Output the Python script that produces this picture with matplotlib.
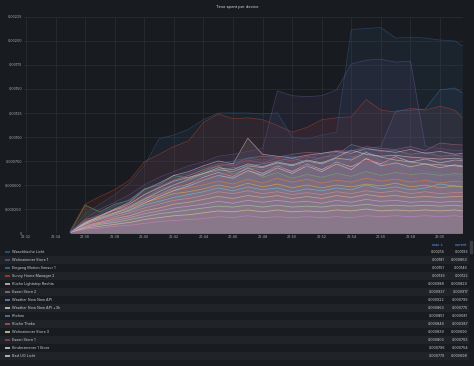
import numpy as np
import pandas as pd
import matplotlib
matplotlib.use("Agg")
import matplotlib.pyplot as plt
import matplotlib.dates as mdates
from matplotlib.patches import Rectangle

plt.rcParams['font.family'] = ['Inter', 'DejaVu Sans']

# time axis (one sample per minute)
times = ["22:35", "22:36", "22:37", "22:38", "22:39", "22:40", "22:41", "22:42",
         "22:43", "22:44", "22:45", "22:46", "22:47", "22:48", "22:49", "22:50",
         "22:51", "22:52", "22:53", "22:54", "22:55", "22:56", "22:57", "22:58",
         "22:59", "23:00", "23:01", "23:01:30"]

# named devices (shown in legend)
waschkueche_licht = [0.00002, 0.00020, 0.00030, 0.00040, 0.00052, 0.00070, 0.00098, 0.00102, 0.00108, 0.00118, 0.00125, 0.00125, 0.00125, 0.00124,
                     0.00125, 0.00100, 0.00098, 0.00102, 0.00105, 0.00212, 0.00213, 0.00214, 0.00203, 0.00204, 0.00203, 0.00201, 0.00200, 0.00195]
wohnzimmer_store_1 = [0.00001, 0.00015, 0.00025, 0.00032, 0.00040, 0.00050, 0.00058, 0.00064, 0.00070, 0.00074, 0.00080, 0.00082, 0.00085, 0.00088,
                      0.00148, 0.00143, 0.00142, 0.00143, 0.00149, 0.00176, 0.00180, 0.00181, 0.00178, 0.00179, 0.00090, 0.00088, 0.00086, 0.000863]
eingang_motion = [0.00001, 0.00012, 0.00020, 0.00028, 0.00035, 0.00045, 0.00052, 0.00058, 0.00062, 0.00068, 0.00072, 0.00075, 0.00078, 0.00076,
                  0.00079, 0.00080, 0.00078, 0.00082, 0.00084, 0.00086, 0.00088, 0.00090, 0.00127, 0.00128, 0.00129, 0.00149, 0.00151, 0.00146]
sunny_home = [0.00003, 0.00030, 0.00038, 0.00045, 0.00055, 0.00074, 0.00082, 0.00090, 0.00096, 0.00115, 0.00124, 0.00119, 0.00120, 0.00118,
              0.00112, 0.00105, 0.00110, 0.00118, 0.00120, 0.00121, 0.00139, 0.00128, 0.00126, 0.00130, 0.00128, 0.00132, 0.00128, 0.00120]
kueche_lightstrip = [0.00001, 0.00010, 0.00018, 0.00025, 0.00032, 0.00045, 0.00052, 0.00060, 0.00064, 0.00070, 0.00075, 0.00072, 0.000988, 0.00082,
                     0.00080, 0.00078, 0.00081, 0.00083, 0.00085, 0.00083, 0.00088, 0.00086, 0.00084, 0.00087, 0.00083, 0.00085, 0.00082, 0.000829]
essen_store_2 = [0.00001, 0.00008, 0.00015, 0.00022, 0.00030, 0.00040, 0.00048, 0.00055, 0.00060, 0.00066, 0.00070, 0.00072, 0.00078, 0.00080,
                 0.00079, 0.00082, 0.00084, 0.00083, 0.00086, 0.00085, 0.00090, 0.00088, 0.00087, 0.00090, 0.00086, 0.000937, 0.00092, 0.000917]
weather_api = [0.00001, 0.00009, 0.00016, 0.00022, 0.00028, 0.00036, 0.00045, 0.00050, 0.00055, 0.00060, 0.00065, 0.00068, 0.00070, 0.00072,
               0.00075, 0.00078, 0.00074, 0.00079, 0.00081, 0.000922, 0.00088, 0.00085, 0.00086, 0.00082, 0.00084, 0.00080, 0.00081, 0.000799]
weather_api_3h = [0.00001, 0.00011, 0.00017, 0.00024, 0.00030, 0.00040, 0.00047, 0.00054, 0.00058, 0.00062, 0.00068, 0.00066, 0.00072, 0.00069,
                  0.00074, 0.00071, 0.00076, 0.00073, 0.00079, 0.000863, 0.00082, 0.00080, 0.00081, 0.00079, 0.00078, 0.00077, 0.00078, 0.000770]
kitchen = [0.00001, 0.00010, 0.00014, 0.00020, 0.00026, 0.00034, 0.00040, 0.00046, 0.00050, 0.00055, 0.00060, 0.00064, 0.00068, 0.00066,
           0.00070, 0.00072, 0.00069, 0.00074, 0.00076, 0.00078, 0.000851, 0.00075, 0.00070, 0.00068, 0.00064, 0.00062, 0.00060, 0.000581]
kueche_theke = [0.00001, 0.00012, 0.00018, 0.00025, 0.00031, 0.00040, 0.00048, 0.00055, 0.00060, 0.00066, 0.00072, 0.00070, 0.00076, 0.00073,
                0.00078, 0.00075, 0.00080, 0.00077, 0.000846, 0.00080, 0.00078, 0.00074, 0.00068, 0.00060, 0.00052, 0.00045, 0.00040, 0.000387]
wohnzimmer_store_3 = [0.00001, 0.00009, 0.00016, 0.00021, 0.00027, 0.00035, 0.00043, 0.00050, 0.00056, 0.00062, 0.00066, 0.00064, 0.00070, 0.00068,
                      0.00073, 0.00070, 0.00075, 0.00072, 0.00078, 0.00076, 0.000839, 0.00079, 0.00076, 0.00074, 0.00072, 0.00071, 0.00070, 0.000690]
essen_store_1 = [0.00001, 0.00008, 0.00013, 0.00019, 0.00025, 0.00032, 0.00040, 0.00046, 0.00052, 0.00057, 0.00062, 0.00060, 0.00066, 0.00064,
                 0.00069, 0.00066, 0.00071, 0.00068, 0.00073, 0.00071, 0.00076, 0.00074, 0.00078, 0.000803, 0.00077, 0.00078, 0.00076, 0.000763]
kinderzimmer_store = [0.00001, 0.00010, 0.00015, 0.00020, 0.00026, 0.00033, 0.00040, 0.00047, 0.00051, 0.00058, 0.00063, 0.00059, 0.00068, 0.00062,
                      0.00070, 0.00064, 0.00072, 0.00066, 0.00074, 0.00069, 0.00077, 0.00072, 0.000796, 0.00074, 0.00077, 0.00073, 0.00076, 0.000754]
bad_ug_licht = [0.00001, 0.00009, 0.00014, 0.00019, 0.00024, 0.00031, 0.00038, 0.00044, 0.00049, 0.00055, 0.00060, 0.00057, 0.00065, 0.00060,
                0.00068, 0.00062, 0.00070, 0.00064, 0.00072, 0.00066, 0.000779, 0.00070, 0.00073, 0.00069, 0.00072, 0.00068, 0.00071, 0.000698]

# further devices further down the (scrolled) legend
dev_a = [0.00001, 0.00029, 0.00022, 0.00030, 0.00034, 0.00046, 0.00050, 0.00060, 0.00057, 0.00064, 0.00070, 0.00061, 0.00067, 0.00058,
         0.00063, 0.00057, 0.00061, 0.00058, 0.00062, 0.00059, 0.00064, 0.00060, 0.00063, 0.00061, 0.00062, 0.00060, 0.00062, 0.00061]
dev_b = [0.00001, 0.00014, 0.00018, 0.00024, 0.00028, 0.00036, 0.00040, 0.00045, 0.00047, 0.00050, 0.00054, 0.00051, 0.00056, 0.00052,
         0.00057, 0.00053, 0.00056, 0.00052, 0.00055, 0.00053, 0.00057, 0.00054, 0.00056, 0.00053, 0.00055, 0.00052, 0.00054, 0.00053]
dev_c = [0.00001, 0.00012, 0.00016, 0.00021, 0.00025, 0.00032, 0.00036, 0.00041, 0.00043, 0.00046, 0.00050, 0.00047, 0.00052, 0.00048,
         0.00051, 0.00047, 0.00050, 0.00047, 0.00050, 0.00048, 0.00051, 0.00049, 0.00052, 0.00048, 0.00050, 0.00047, 0.00049, 0.00048]
dev_d = [0.00001, 0.00010, 0.00015, 0.00019, 0.00023, 0.00029, 0.00033, 0.00037, 0.00040, 0.00043, 0.00047, 0.00044, 0.00048, 0.00045,
         0.00047, 0.00043, 0.00046, 0.00044, 0.00047, 0.00045, 0.00050, 0.00046, 0.00048, 0.00045, 0.00047, 0.00051, 0.00049, 0.00048]
dev_e = [0.00001, 0.00009, 0.00013, 0.00017, 0.00021, 0.00026, 0.00030, 0.00034, 0.00036, 0.00039, 0.00043, 0.00041, 0.00044, 0.00041,
         0.00043, 0.00040, 0.00042, 0.00040, 0.00043, 0.00041, 0.00044, 0.00042, 0.00044, 0.00041, 0.00043, 0.00041, 0.00042, 0.00042]
dev_f = [0.00001, 0.00008, 0.00011, 0.00015, 0.00018, 0.00023, 0.00026, 0.00030, 0.00032, 0.00035, 0.00038, 0.00036, 0.00039, 0.00037,
         0.00039, 0.00036, 0.00038, 0.00036, 0.00039, 0.00037, 0.00040, 0.00038, 0.00039, 0.00037, 0.00038, 0.00037, 0.00038, 0.00038]
dev_g = [0.00001, 0.00007, 0.00010, 0.00013, 0.00016, 0.00020, 0.00023, 0.00026, 0.00028, 0.00030, 0.00033, 0.00031, 0.00034, 0.00032,
         0.00034, 0.00032, 0.00033, 0.00031, 0.00034, 0.00032, 0.00035, 0.00033, 0.00034, 0.00032, 0.00033, 0.00032, 0.00033, 0.00033]
dev_h = [0.00001, 0.00006, 0.00009, 0.00011, 0.00014, 0.00017, 0.00020, 0.00022, 0.00024, 0.00026, 0.00028, 0.00027, 0.00029, 0.00027,
         0.00029, 0.00027, 0.00028, 0.00027, 0.00029, 0.00028, 0.00030, 0.00028, 0.00029, 0.00028, 0.00029, 0.00028, 0.00029, 0.00028]
dev_i = [0.00001, 0.00005, 0.00007, 0.00009, 0.00011, 0.00014, 0.00016, 0.00018, 0.00019, 0.00021, 0.00023, 0.00022, 0.00024, 0.00022,
         0.00024, 0.00022, 0.00023, 0.00022, 0.00024, 0.00023, 0.00025, 0.00023, 0.00024, 0.00023, 0.00024, 0.00023, 0.00024, 0.00023]
dev_j = [0.00001, 0.00004, 0.00005, 0.00007, 0.00008, 0.00010, 0.00012, 0.00013, 0.00014, 0.00015, 0.00017, 0.00016, 0.00018, 0.00016,
         0.00017, 0.00016, 0.00017, 0.00016, 0.00017, 0.00016, 0.00018, 0.00017, 0.00018, 0.00017, 0.00018, 0.00017, 0.00018, 0.00017]

legend_names = ["Waschküche Licht", "Wohnzimmer Store 1", "Eingang Motion Sensor 1", "Sunny Home Manager 2",
                "Küche Lightstrip Rechts", "Essen Store 2", "Weather Now New API", "Weather Now New API +3h",
                "Kitchen", "Küche Theke", "Wohnzimmer Store 3", "Essen Store 1", "Kinderzimmer 1 Store", "Bad UG Licht"]
legend_max = ["0.00214", "0.00181", "0.00151", "0.00139", "0.000988", "0.000937", "0.000922",
              "0.000863", "0.000851", "0.000846", "0.000839", "0.000803", "0.000796", "0.000779"]
legend_current = ["0.00193", "0.000863", "0.00146", "0.00122", "0.000829", "0.000917", "0.000799",
                  "0.000770", "0.000581", "0.000387", "0.000690", "0.000763", "0.000754", "0.000698"]

named_series = [waschkueche_licht, wohnzimmer_store_1, eingang_motion, sunny_home, kueche_lightstrip,
                essen_store_2, weather_api, weather_api_3h, kitchen, kueche_theke, wohnzimmer_store_3,
                essen_store_1, kinderzimmer_store, bad_ug_licht]
named_colors = ["#34598a", "#5f5290", "#41709e", "#b8402f", "#e8c2cc", "#a86c8a", "#7689ad",
                "#d8d8d8", "#65809f", "#b85866", "#e6d4ac", "#ab3e4b", "#d3dce6", "#e6dac2"]
extra_series = [dev_a, dev_b, dev_c, dev_d, dev_e, dev_f, dev_g, dev_h, dev_i, dev_j]
extra_colors = ["#7eb26d", "#ef843c", "#eab839", "#6ed0e0", "#f29191", "#f9ba8f",
                "#e5a8e2", "#b7dbab", "#f4d598", "#d683ce"]

bg = "#181b1f"
t = pd.to_datetime(["2024-01-01 " + s for s in times], format="mixed")

fig = plt.figure(figsize=(4.74, 3.66), dpi=100, facecolor=bg)
ax = fig.add_axes([24 / 474, 1 - 233 / 366, (463 - 24) / 474, (233 - 17) / 366])
ax.set_facecolor(bg)

pairs = list(zip(extra_series, extra_colors))[::-1] + list(zip(named_series, named_colors))[::-1]
for vals, col in pairs:
    ax.fill_between(t, vals, 0, color=col, alpha=0.13, linewidth=0)
    ax.plot(t, vals, color=col, lw=0.55, alpha=0.6)

ax.set_ylim(0, 0.00225)
ax.set_xlim(pd.Timestamp("2024-01-01 22:31:52"), pd.Timestamp("2024-01-01 23:01:33"))
ax.set_yticks(np.arange(0, 0.00226, 0.00025))
ax.set_yticklabels(["0", "0.000250", "0.000500", "0.000750", "0.00100", "0.00125",
                    "0.00150", "0.00175", "0.00200", "0.00225"])
ax.xaxis.set_major_locator(mdates.MinuteLocator(byminute=range(0, 60, 2)))
ax.xaxis.set_major_formatter(mdates.DateFormatter("%H:%M"))
ax.tick_params(colors="#a9acb1", labelsize=2.6, length=0, pad=1.5)
ax.grid(True, color="#2c2f34", lw=0.5)
ax.set_axisbelow(True)
for s in ax.spines.values():
    s.set_visible(False)

fig.text(0.5, 1 - 7 / 366, "Time spent per device", ha="center", va="center",
         color="#d8d9da", fontsize=2.9)

# legend table
lax = fig.add_axes([0, 0, 1, 1], facecolor="none")
lax.set_xlim(0, 474)
lax.set_ylim(366, 0)
lax.axis("off")
row_h = 8.05
y0 = 251.7
lax.text(443, 245, "max ↓", color="#6e9fff", fontsize=2.6, ha="right", va="center")
lax.text(467, 245, "current", color="#6e9fff", fontsize=2.6, ha="right", va="center")
lax.add_patch(Rectangle((470, 241), 2.5, 12, color="#3a3d42"))
for i, name in enumerate(legend_names):
    yc = y0 + i * row_h
    if i % 2 == 1:
        lax.add_patch(Rectangle((0, yc - row_h / 2), 469, row_h, color="#202328", lw=0))
    lax.plot([5, 10], [yc, yc], color=named_colors[i], lw=1.1, solid_capstyle="butt")
    lax.text(12, yc, name, color="#cfd1d4", fontsize=2.7, va="center")
    lax.text(445, yc, legend_max[i], color="#cfd1d4", fontsize=2.6, ha="right", va="center")
    lax.text(468, yc, legend_current[i], color="#cfd1d4", fontsize=2.6, ha="right", va="center")

fig.savefig("out.png", dpi=100, facecolor=bg)
